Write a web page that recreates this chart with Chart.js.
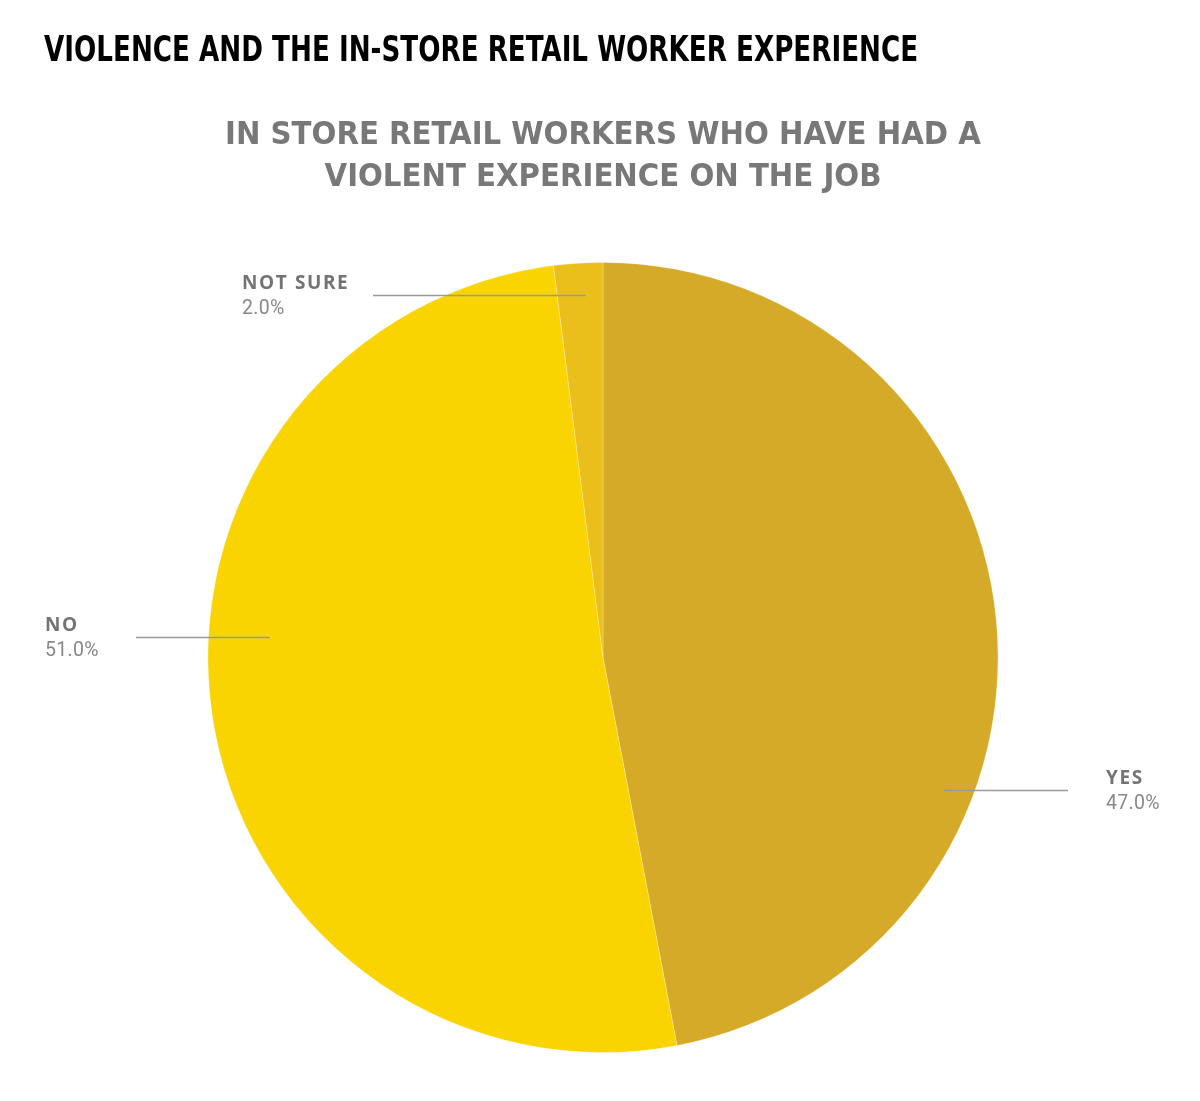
<!DOCTYPE html>
<html>
<head>
<meta charset="utf-8">
<script src="https://cdn.jsdelivr.net/npm/chart.js"></script>
<style>
  html, body { margin: 0; padding: 0; background: #fff; }
  #wrap { position: relative; width: 1200px; height: 1101px; }
  #heading {
    position: absolute; left: 44px; top: 27px; margin: 0;
    font-family: "DejaVu Sans Condensed", "DejaVu Sans", sans-serif;
    font-weight: bold; font-size: 35px; line-height: 44px; color: #000;
    white-space: nowrap;
    transform: scaleX(0.832); transform-origin: 0 0;
  }
  #chart { position: absolute; left: 0; top: 0; }
</style>
</head>
<body>
<div id="wrap">
  <canvas id="chart" width="1200" height="1101"></canvas>
  <h1 id="heading">VIOLENCE AND THE IN-STORE RETAIL WORKER EXPERIENCE</h1>
</div>
<script>
var categories = ['YES', 'NO', 'NOT SURE'];
var shares = [47.0, 51.0, 2.0];
var sliceColors = ['#D4AA28', '#F9D400', '#EABF1B'];
var subtitleLines = ['IN STORE RETAIL WORKERS WHO HAVE HAD A', 'VIOLENT EXPERIENCE ON THE JOB'];

// leader line + label placement per slice (angle from 12 o'clock, clockwise)
var labelLayout = [
	{ angle: 111.2, r: 0.926, lineEnd: 465, textX: 503 },
	{ angle: 273.6, r: 0.845, lineEnd: -467, textX: -558 },
	{ angle: 357.3, r: 0.92, lineEnd: -230, textX: -361 }
];

var pieLabels = {
	id: 'pieLabels',
	afterDatasetsDraw: function(chart) {
		var ctx = chart.ctx;
		var arcs = chart.getDatasetMeta(0).data;
		ctx.save();
		arcs.forEach(function(arc, i) {
			var L = labelLayout[i];
			var a = (L.angle - 90) * Math.PI / 180;
			var px = arc.x + Math.cos(a) * arc.outerRadius * L.r;
			var py = Math.round(arc.y + Math.sin(a) * arc.outerRadius * L.r) + 0.5;
			var ex = arc.x + L.lineEnd;
			ctx.strokeStyle = '#9a9a9a';
			ctx.lineWidth = 1.3;
			ctx.beginPath();
			ctx.moveTo(px, py);
			ctx.lineTo(ex, py);
			ctx.stroke();

			var tx = arc.x + L.textX;
			ctx.textAlign = 'left';
			ctx.textBaseline = 'middle';
			ctx.fillStyle = '#747474';
			ctx.font = 'bold 19px "Open Sans", sans-serif';
			ctx.letterSpacing = '1.6px';
			ctx.fillText(categories[i], tx, py - 12);
			ctx.fillStyle = '#888888';
			ctx.font = '19.5px Roboto, sans-serif';
			ctx.letterSpacing = '0.3px';
			ctx.fillText(shares[i].toFixed(1) + '%', tx, py + 14);
		});
		ctx.restore();
	}
};

var ctx = document.getElementById('chart').getContext('2d');
var pieChart = new Chart(ctx, {
	type: 'pie',
	data: {
		labels: categories,
		datasets: [{
			data: shares,
			backgroundColor: sliceColors,
			borderColor: 'rgba(255,255,255,0.25)',
			borderWidth: 1
		}]
	},
	options: {
		responsive: false,
		animation: false,
		layout: { padding: { left: 6, right: 0, top: 0, bottom: 48 } },
		plugins: {
			legend: { display: false },
			tooltip: { enabled: false },
			title: {
				display: true,
				text: subtitleLines,
				color: '#787878',
				font: { family: '"DejaVu Sans Condensed", "DejaVu Sans", sans-serif', size: 32.5, weight: 'bold', lineHeight: '42px' },
				padding: { top: 115, bottom: 63 }
			}
		}
	},
	plugins: [pieLabels]
});
</script>
</body>
</html>
